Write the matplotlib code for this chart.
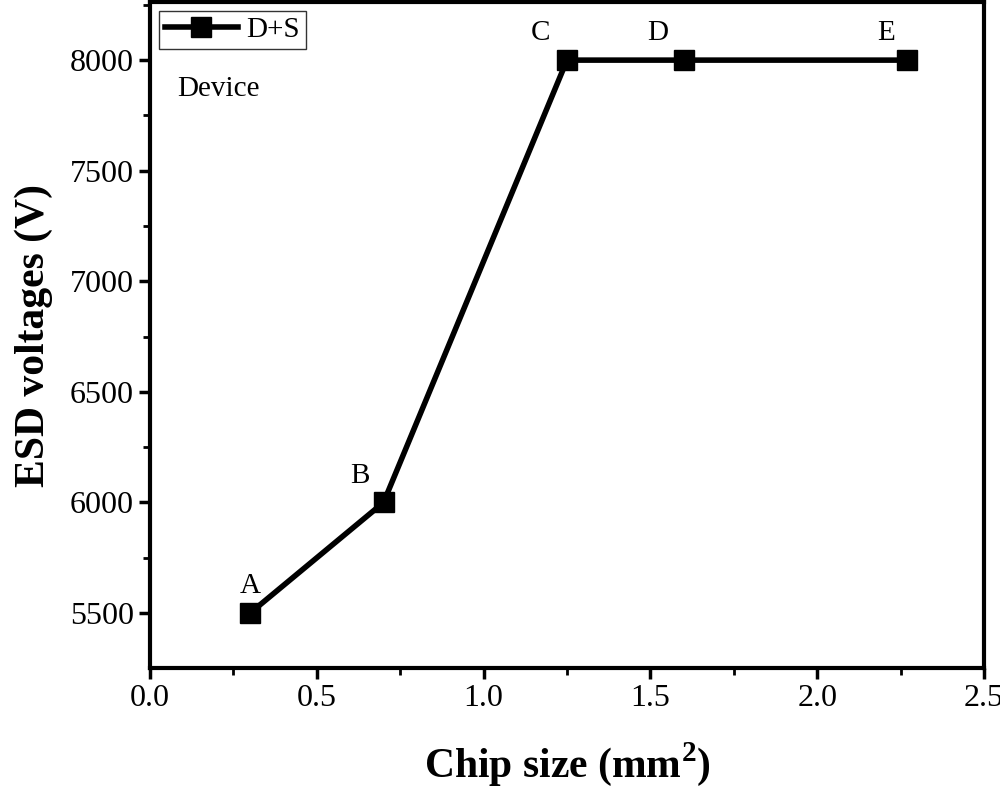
import matplotlib.pyplot as plt
from matplotlib.ticker import MultipleLocator

plt.rcParams['font.family'] = ['Liberation Serif', 'DejaVu Serif']
plt.rcParams['mathtext.fontset'] = 'custom'
plt.rcParams['mathtext.rm'] = 'Liberation Serif'
plt.rcParams['mathtext.bf'] = 'Liberation Serif:bold'

chip_size = [0.30, 0.70, 1.25, 1.60, 2.27]
esd_volts = [5500, 6000, 8000, 8000, 8000]
point_names = ['A', 'B', 'C', 'D', 'E']

fig = plt.figure(figsize=(10, 7.98), dpi=100)
ax = fig.add_axes([0.15, 0.163, 0.834, 0.834])

ax.plot(chip_size, esd_volts, color='black', lw=4, marker='s', ms=14,
        label='D+S')

offsets = [(0, 10), (-17, 10), (-19, 10), (-19, 10), (-15, 10)]
for x, y, name, off in zip(chip_size, esd_volts, point_names, offsets):
    ax.annotate(name, (x, y), xytext=off, textcoords='offset points',
                ha='center', va='bottom', fontsize=21)

ax.set_xlim(0, 2.5)
ax.set_ylim(5252, 8261)
ax.xaxis.set_major_locator(MultipleLocator(0.5))
ax.xaxis.set_minor_locator(MultipleLocator(0.25))
ax.yaxis.set_major_locator(MultipleLocator(500))
ax.yaxis.set_minor_locator(MultipleLocator(250))
ax.tick_params(which='major', direction='out', length=8, width=2.5, labelsize=23)
ax.tick_params(which='minor', direction='out', length=5, width=2)
for s in ax.spines.values():
    s.set_linewidth(3)

ax.set_xlabel('Chip size (mm$^\\mathbf{2}$)', fontsize=30, fontweight='bold', labelpad=20)
ax.set_ylabel('ESD voltages (V)', fontsize=30, fontweight='bold', labelpad=12)

leg = ax.legend(loc='upper left', fontsize=21, frameon=True, fancybox=False,
                edgecolor='black', borderaxespad=0.3, handlelength=2.5,
                borderpad=0.2, handletextpad=0.3)
leg.get_frame().set_linewidth(1)
ax.text(0.033, 0.86, 'Device', transform=ax.transAxes, fontsize=21)

fig.savefig('out.png')
